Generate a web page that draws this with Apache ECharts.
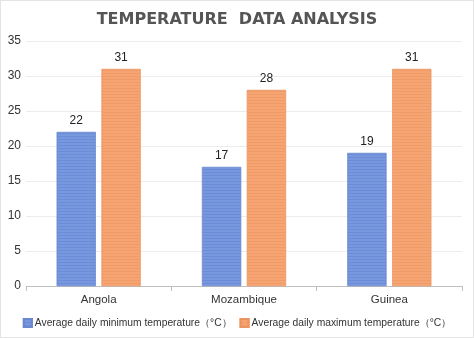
<!DOCTYPE html>
<html><head><meta charset="utf-8">
<script src="https://cdn.jsdelivr.net/npm/echarts@6/dist/echarts.min.js"></script>
<style>html,body{margin:0;padding:0;background:#fff}#c{width:474px;height:338px;box-sizing:border-box;border:1px solid #e4e4e4}</style>
</head><body><div id="c"></div>
<script>
var categories = ['Angola', 'Mozambique', 'Guinea'];
var minTemp = [22, 17, 19];
var maxTemp = [31, 28, 31];
var seriesNames = ['Average daily minimum temperature（°C）', 'Average daily maximum temperature（°C）'];
var yTicks = {min: 0, max: 35, interval: 5};

var chart = echarts.init(document.getElementById('c'));
function stripes(c){return {symbol:'rect', dashArrayX:[1,0], dashArrayY:[1,2], symbolSize:1, color:c, rotation:0};}
chart.setOption({
  animation: false,
  title: {text: 'TEMPERATURE  DATA ANALYSIS', left: 'center', top: 6,
    textStyle: {fontFamily: 'DejaVu Sans', fontSize: 16, fontWeight: 'bold', color: '#555'}},
  grid: {left: 25, right: 11, top: 40, bottom: 51},
  legend: {bottom: 4, left: 'center', itemWidth: 8, itemHeight: 8, itemGap: 8, icon: 'rect',
    textStyle: {fontFamily: 'Liberation Sans', fontSize: 10.3, color: '#333', padding: [0,0,0,-2]}},
  xAxis: {type: 'category', data: categories,
    axisLine: {lineStyle: {color: '#bfbfbf'}},
    axisTick: {show: true, length: 5, lineStyle: {color: '#bfbfbf'}},
    axisLabel: {fontFamily: 'Liberation Sans', fontSize: 11.5, color: '#333', margin: 8}},
  yAxis: {type: 'value', min: yTicks.min, max: yTicks.max, interval: yTicks.interval,
    axisLine: {show: false}, axisTick: {show: false},
    axisLabel: {fontFamily: 'Liberation Sans', fontSize: 12, color: '#333', margin: 5},
    splitLine: {lineStyle: {color: '#ececec'}}},
  series: [
    {name: seriesNames[0], type: 'bar', data: minTemp, barWidth: 39, barGap: '15%',
      itemStyle: {color: '#7797de', borderColor: '#6a88cf', borderWidth: 0.5, decal: stripes('rgba(90,120,200,0.35)')},
      label: {show: true, position: 'top', distance: 5, fontFamily: 'Liberation Sans', fontSize: 12, color: '#222'}},
    {name: seriesNames[1], type: 'bar', data: maxTemp, barWidth: 39,
      itemStyle: {color: '#f6a572', borderColor: '#ec9460', borderWidth: 0.5, decal: stripes('rgba(230,140,90,0.35)')},
      label: {show: true, position: 'top', distance: 5, fontFamily: 'Liberation Sans', fontSize: 12, color: '#222'}}
  ]
});
</script></body></html>
